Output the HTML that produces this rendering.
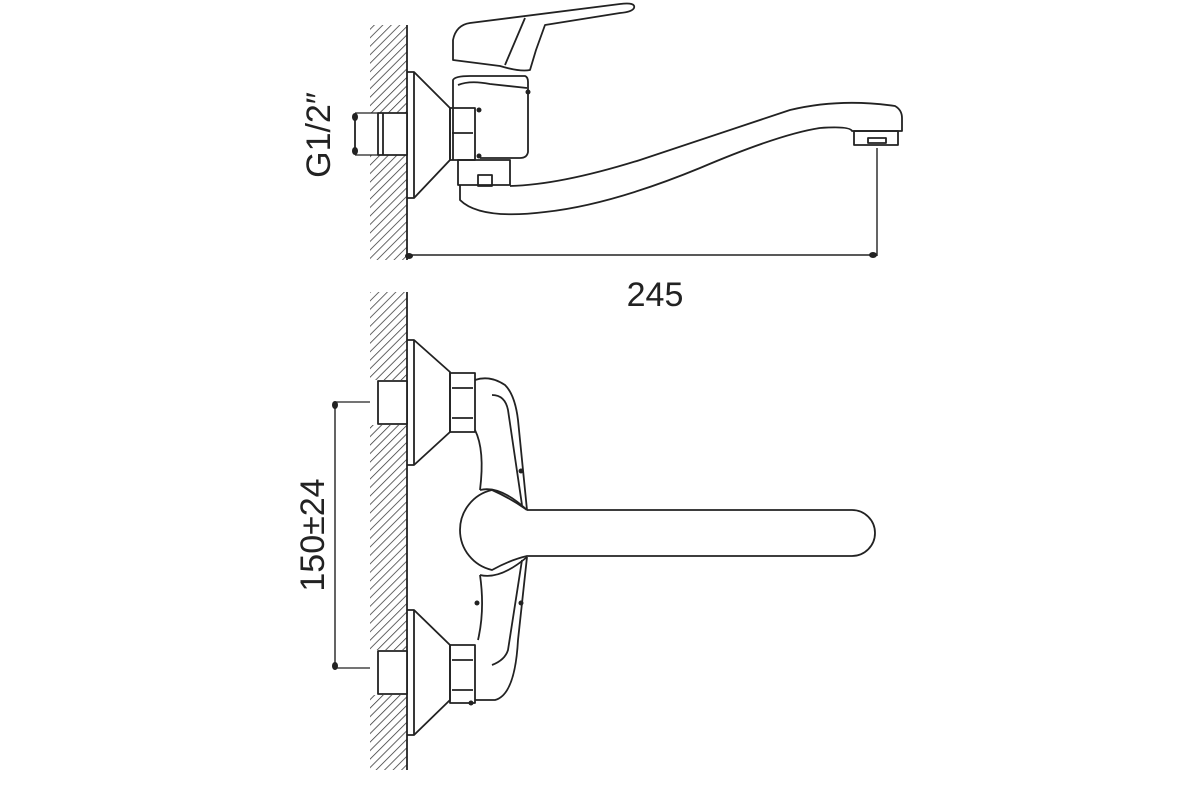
<!DOCTYPE html>
<html><head><meta charset="utf-8"><style>
html,body{margin:0;padding:0;background:#fff;}
svg{display:block;}
text{font-family:"Liberation Sans",Arial,sans-serif;fill:#222;}
</style></head><body>
<svg width="1200" height="800" viewBox="0 0 1200 800" xmlns="http://www.w3.org/2000/svg">
<defs>
<pattern id="h" patternUnits="userSpaceOnUse" width="6" height="6" patternTransform="rotate(45)">
<line x1="0" y1="0" x2="0" y2="6" stroke="#333" stroke-width="1.5"/>
</pattern>
</defs>
<g fill="none" stroke="#222" stroke-width="1.8" stroke-linejoin="round">
<!-- TOP VIEW -->
<rect x="370" y="25" width="37" height="88" fill="url(#h)" stroke="none"/>
<rect x="370" y="155" width="37" height="105" fill="url(#h)" stroke="none"/>
<line x1="407" y1="25" x2="407" y2="260"/>
<rect x="378" y="113" width="29" height="42" fill="#fff"/>
<line x1="383" y1="113" x2="383" y2="155"/>
<line x1="355" y1="115" x2="355" y2="154"/>
<line x1="355" y1="113" x2="378" y2="113" stroke-width="1.2"/>
<line x1="355" y1="155" x2="378" y2="155" stroke-width="1.2"/>
<path d="M407 72 H414 L450 108 V160 L414 198 H407"/>
<line x1="414" y1="72" x2="414" y2="198"/>
<rect x="450" y="108" width="25" height="52"/>
<line x1="452" y1="133" x2="473" y2="133"/>
<path d="M453 160 V80 Q455 76 470 76 H525 Q528 77 528 82 V152 Q527 158 520 158 H480"/>
<path d="M458 85 Q470 80 490 84 L527 88"/>
<path d="M453 60 V40 Q456 25 470 23 L620 4 Q636 2 634 8 Q632 12 620 13 L545 25 L536 50 L530 70 Q520 72 500 66 Z"/>
<path d="M505 65 L525 18"/>
<rect x="458" y="160" width="52" height="25"/>
<path d="M478 175 H492 V186 H478 Z"/>
<path d="M510 186 Q560 185 640 160 L790 110 Q840 98 895 106 Q902 110 902 118 V131 H852 Q850 126 820 128 Q780 134 700 168 Q610 205 545 212 Q480 220 460 200 V185"/>
<rect x="854" y="131" width="44" height="14"/>
<rect x="868" y="138" width="18" height="5"/>
<line x1="877" y1="148" x2="877" y2="256" stroke-width="1.4"/>
<line x1="407" y1="255" x2="877" y2="255" stroke-width="1.4"/>

<!-- BOTTOM VIEW -->
<rect x="370" y="292" width="37" height="88" fill="url(#h)" stroke="none"/>
<rect x="370" y="425" width="37" height="225" fill="url(#h)" stroke="none"/>
<rect x="370" y="695" width="37" height="75" fill="url(#h)" stroke="none"/>
<line x1="407" y1="292" x2="407" y2="770"/>
<rect x="378" y="381" width="29" height="43" fill="#fff"/>
<rect x="378" y="651" width="29" height="43" fill="#fff"/>
<path d="M407 340 H414 L450 372 V432 L414 465 H407"/>
<line x1="414" y1="340" x2="414" y2="465"/>
<path d="M407 610 H414 L450 645 V700 L414 735 H407"/>
<line x1="414" y1="610" x2="414" y2="735"/>
<rect x="450" y="373" width="25" height="59"/>
<line x1="452" y1="388" x2="473" y2="388"/><line x1="452" y1="418" x2="473" y2="418"/>
<rect x="450" y="645" width="25" height="58"/>
<line x1="452" y1="660" x2="473" y2="660"/><line x1="452" y1="690" x2="473" y2="690"/>
<path d="M475 380 Q490 375 505 385 Q515 395 518 420 L527 510"/>
<path d="M475 430 Q485 450 480 490"/>
<path d="M480 575 Q485 610 478 640"/>
<path d="M527 557 L518 640 Q515 695 495 700 L475 700"/>
<path d="M492 395 Q505 395 508 410 L522 505"/>
<path d="M522 560 L508 650 Q505 660 492 665"/>
<path d="M527 510 H852 A23 23 0 0 1 852 556 H527 Q510 560 492 570 A41 41 0 0 1 492 490 Q510 498 527 510"/>
<path d="M527 510 Q500 485 480 490"/>
<path d="M527 557 Q500 580 480 575"/>
<line x1="335" y1="403" x2="335" y2="667" stroke-width="1.4"/>
<line x1="335" y1="402" x2="370" y2="402" stroke-width="1.2"/>
<line x1="335" y1="668" x2="370" y2="668" stroke-width="1.2"/>
</g>
<g fill="#222">
<ellipse cx="355" cy="117" rx="3" ry="4"/><ellipse cx="355" cy="151" rx="3" ry="4"/>
<ellipse cx="409" cy="256" rx="4" ry="3"/><ellipse cx="873" cy="255" rx="4" ry="3"/>
<ellipse cx="335" cy="405" rx="3" ry="4"/><ellipse cx="335" cy="666" rx="3" ry="4"/>
<circle cx="528" cy="92" r="2.5"/><circle cx="479" cy="110" r="2.5"/><circle cx="479" cy="156" r="2.5"/>
<circle cx="521" cy="471" r="2.5"/><circle cx="521" cy="603" r="2.5"/><circle cx="477" cy="603" r="2.5"/><circle cx="471" cy="703" r="2.5"/>
</g>
<text x="0" y="0" font-size="34" text-anchor="middle" transform="translate(330,135) rotate(-90)">G1/2″</text>
<text x="655" y="306" font-size="34" text-anchor="middle">245</text>
<text x="0" y="0" font-size="34" text-anchor="middle" transform="translate(324,535) rotate(-90)">150±24</text>
</svg>
</body></html>
